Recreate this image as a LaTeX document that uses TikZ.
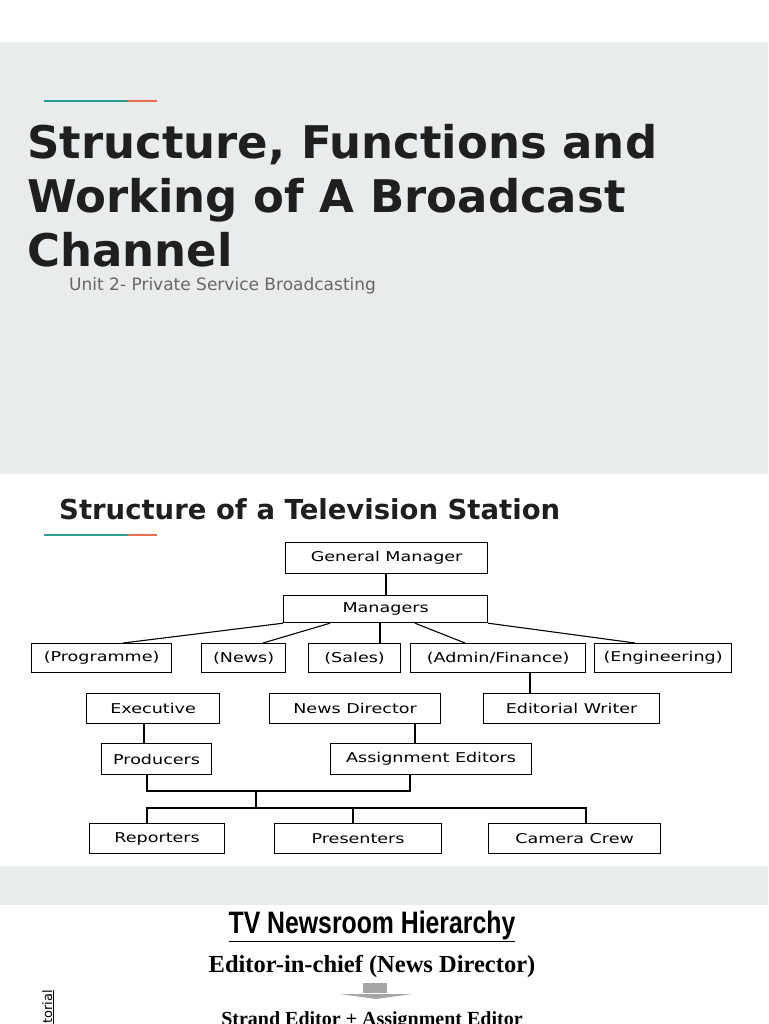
\documentclass[tikz,border=0pt]{standalone}
\usepackage{fontspec}
\setmainfont{DejaVu Sans}
\newfontfamily\serifx{Liberation Serif}
\newfontfamily\narrowx{Liberation Sans}
\newfontfamily\orgf{DejaVu Sans}
\definecolor{bg}{HTML}{E9ECED}
\definecolor{teal}{HTML}{2A9D8F}
\definecolor{orng}{HTML}{E76F51}
\newcommand{\wide}[1]{\scalebox{1.3}[1]{#1}}
\begin{document}
\begin{tikzpicture}[x=1pt,y=-1pt,
  box/.style={draw=black,line width=1.2pt,minimum height=29pt,inner sep=0pt,font=\orgf\fontsize{13.5}{15}\selectfont,anchor=north west},
  ln/.style={line width=1.1pt}]
\useasboundingbox (0,0) rectangle (768,1024);
\fill[white] (0,0) rectangle (768,1024);
\fill[bg] (0,42) rectangle (768,474);
\fill[bg] (0,866) rectangle (768,905);
\fill[white] (15,905) rectangle (755,1024);
% accent lines
\draw[teal,line width=1.5pt] (44,101) -- (128,101);
\draw[orng,line width=1.5pt] (128,101) -- (157,101);
\draw[teal,line width=1.5pt] (44,535) -- (128,535);
\draw[orng,line width=1.5pt] (128,535) -- (157,535);
\node[anchor=north west,align=left,font=\bfseries\fontsize{45}{54}\selectfont,text=black!88,inner sep=0pt] (title) at (27,124) {Structure, Functions and\\Working of A Broadcast\\Channel};
\node[anchor=west,font=\fontsize{17}{20}\selectfont,text=black!60,inner sep=0pt] (sub) at (69,286) {Unit 2- Private Service Broadcasting};
\node[anchor=west,font=\bfseries\fontsize{27.5}{32}\selectfont,text=black!88,inner sep=0pt] (h2) at (59,509) {Structure of a Television Station};
% org chart
\node[box,minimum width=202pt,minimum height=31pt] (gm) at (285,542) {\wide{General Manager}};
\node[box,minimum width=204pt,minimum height=27pt] (mg) at (283,595) {\wide{Managers}};
\node[box,minimum width=140pt] (pr) at (31,643) {\wide{(Programme)}};
\node[box,minimum width=84pt] (nw) at (201,643) {\wide{(News)}};
\node[box,minimum width=92pt] (sl) at (308,643) {\wide{(Sales)}};
\node[box,minimum width=175pt] (ad) at (410,643) {\wide{(Admin/Finance)}};
\node[box,minimum width=137pt] (en) at (594,643) {\wide{(Engineering)}};
\node[box,minimum width=133pt,minimum height=30pt] (ex) at (86,693) {\wide{Executive}};
\node[box,minimum width=171pt,minimum height=30pt] (nd) at (269,693) {\wide{News Director}};
\node[box,minimum width=176pt,minimum height=30pt] (ew) at (483,693) {\wide{Editorial Writer}};
\node[box,minimum width=110pt,minimum height=31pt] (pd) at (101,743) {\wide{Producers}};
\node[box,minimum width=201pt,minimum height=31pt] (ae) at (330,743) {\wide{Assignment Editors}};
\node[box,minimum width=135pt,minimum height=30pt] (rp) at (89,823) {\wide{Reporters}};
\node[box,minimum width=167pt,minimum height=30pt] (ps) at (274,823) {\wide{Presenters}};
\node[box,minimum width=172pt,minimum height=30pt] (cc) at (488,823) {\wide{Camera Crew}};
\coordinate (b1) at (147,791);
\coordinate (b2) at (410,791);
\coordinate (bm) at (256,791);
\coordinate (c1) at (256,808);
\coordinate (cl) at (147,808);
\coordinate (cm) at (353,808);
\coordinate (cr) at (586,808);
\draw[ln] (gm.south -| 386,0) -- (mg.north -| 386,0);
\draw[ln] (mg.south west) -- (pr.north -| 123,0);
\draw[ln] (mg.south -| 330,0) -- (nw.north -| 263,0);
\draw[ln] (mg.south -| 380,0) -- (sl.north -| 380,0);
\draw[ln] (mg.south -| 415,0) -- (ad.north -| 465,0);
\draw[ln] (mg.south east) -- (en.north -| 635,0);
\draw[ln] (ad.south -| 530,0) -- (ew.north -| 530,0);
\draw[ln] (ex.south -| 144,0) -- (pd.north -| 144,0);
\draw[ln] (nd.south -| 415,0) -- (ae.north -| 415,0);
\draw[ln] (pd.south -| b1) -- (b1) -- (b2) -- (ae.south -| b2);
\draw[ln] (bm) -- (c1);
\draw[ln] (rp.north -| cl) -- (cl) -- (cr) -- (cc.north -| cr);
\draw[ln] (cm) -- (ps.north -| cm);
% bottom panel
\node[font=\narrowx\bfseries\fontsize{31}{34}\selectfont,xscale=0.8,inner sep=0pt] (tvh) at (372,926) {\underline{TV Newsroom Hierarchy}};
\node[font=\serifx\bfseries\fontsize{24.5}{28}\selectfont,inner sep=0pt] (eic) at (372,966) {Editor-in-chief (News Director)};
\fill[black!35] (363,983) rectangle (387,993);
\fill[black!35] (340,994) -- (412,994) -- (376,999) -- cycle;
\node[font=\serifx\bfseries\fontsize{20}{22}\selectfont,inner sep=0pt,anchor=north] (se) at (372,1011) {Strand Editor + Assignment Editor};
\node[font=\fontsize{13}{15}\selectfont,rotate=90,inner sep=0pt,anchor=north east] (tor) at (42,990) {\underline{torial}};
\end{tikzpicture}
\end{document}
